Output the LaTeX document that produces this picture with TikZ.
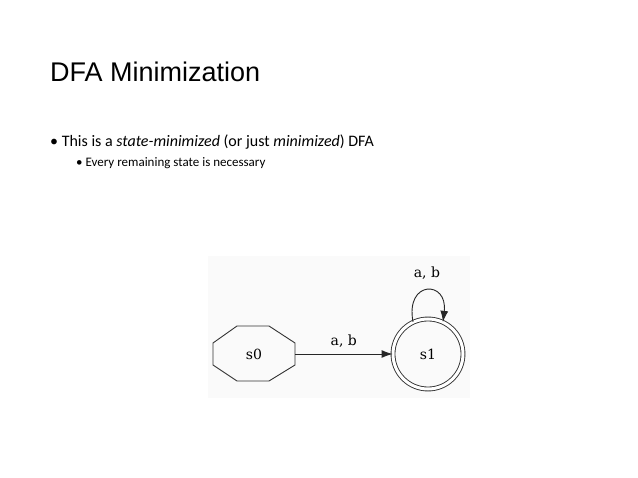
\documentclass[tikz,border=0pt]{standalone}
\usepackage{fontspec}
\setmainfont{Carlito}
\newfontfamily\titlefont{Liberation Sans}
\newfontfamily\gvfont{DejaVu Serif}
\usetikzlibrary{arrows.meta}
\begin{document}
\begin{tikzpicture}[x=1pt,y=-1pt,
  lbl/.style={font=\gvfont\fontsize{14}{16}\selectfont, inner sep=0pt},
  edge/.style={line width=0.9pt, draw=black!85, -{Latex[length=11pt,width=8pt]}}]
\useasboundingbox (0,0) rectangle (638,478);
\fill[white] (0,0) rectangle (638,478);
\fill[black!2] (208,256) rectangle (470,398);
\node[anchor=base west, inner sep=0pt, font=\titlefont\fontsize{27}{30}\selectfont] (title) at (50,82) {DFA Minimization};
\node[anchor=base west, inner sep=0pt, font=\fontsize{16}{18}\selectfont] (b1) at (50,147) {\textbullet\ This is a \textit{state-minimized} (or just \textit{minimized}) DFA};
\node[anchor=base west, inner sep=0pt, font=\fontsize{13}{15}\selectfont] (b2) at (76,167) {\textbullet\ Every remaining state is necessary};
\draw[line width=0.9pt, draw=black!80] (213,343) -- (237,326) -- (269,326) -- (295,343) -- (295,365) -- (269,381) -- (237,381) -- (213,365) -- cycle;
\coordinate (s0e) at (295,354);
\node[lbl] (s0) at (254,354) {s0};
\node[circle, draw=black!80, line width=0.9pt, minimum size=70pt, double=white, double distance=3pt, inner sep=0pt] (s1) at (428,354) {};
\node[lbl] at (428,354) {s1};
\draw[edge] (s0e) -- (s1.west) node[lbl, midway, above=6pt] (l1) {a, b};
\draw[edge] (s1.115) .. controls (405,280) and (448,280) .. (s1.65);
\node[lbl] (l2) at (427,273) {a, b};
\end{tikzpicture}
\end{document}
